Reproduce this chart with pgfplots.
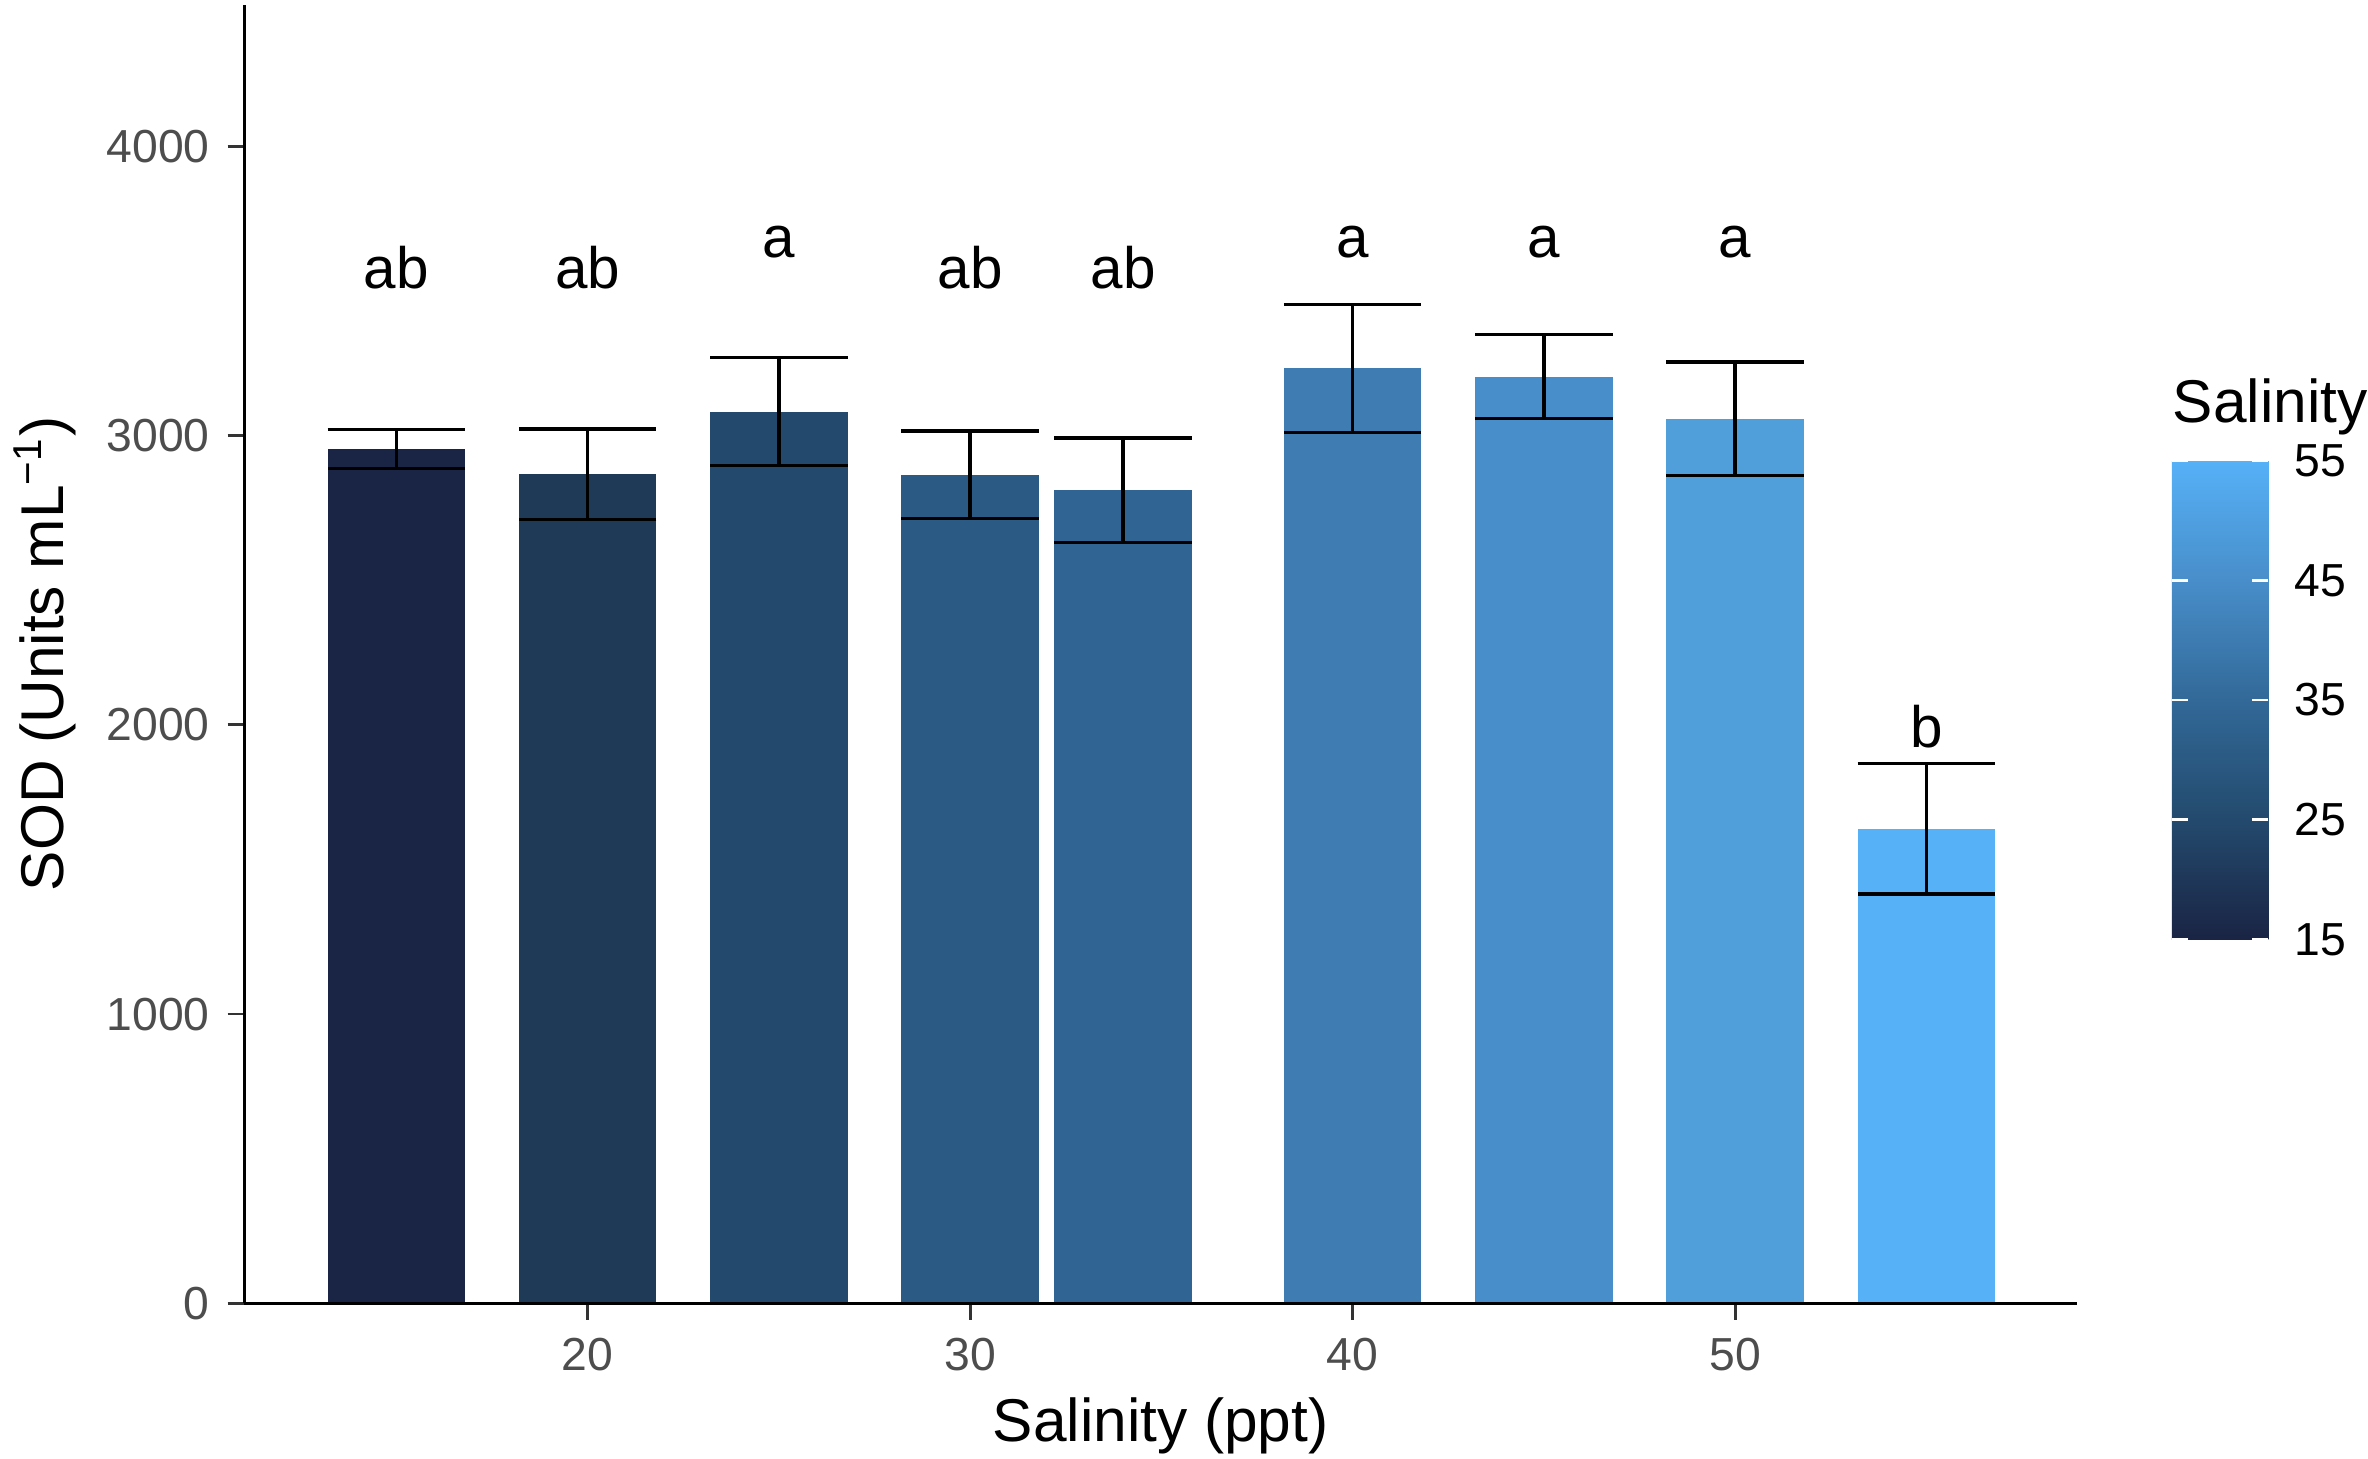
\documentclass[border=0pt]{standalone}
\usepackage{fontspec}
\setmainfont{Liberation Sans}
\usepackage{pgfplots}
\pgfplotsset{compat=1.18}
\usepackage{pgfplotstable}

% bar colours
\definecolor{s15}{RGB}{26,36,68}
\definecolor{s20}{RGB}{31,58,86}
\definecolor{s25}{RGB}{35,74,109}
\definecolor{s30}{RGB}{43,90,133}
\definecolor{s34}{RGB}{48,101,147}
\definecolor{s40}{RGB}{62,124,177}
\definecolor{s45}{RGB}{72,142,202}
\definecolor{s50}{RGB}{80,159,218}
\definecolor{s55}{RGB}{86,177,247}
\definecolor{ticktxt}{RGB}{77,77,77}

% letters of the post-hoc test
\pgfplotstableread{
sal pos lab
15 3510 ab
20 3510 ab
25 3614 a
30 3510 ab
34 3510 ab
40 3614 a
45 3614 a
50 3614 a
55 1920 b
}\letters

\begin{document}
\begin{tikzpicture}
\useasboundingbox (-48.5pt,-30.9pt) rectangle (421.9pt,258.9pt);
\begin{axis}[
  scale only axis,
  width=364.1pt, height=258pt,
  xmin=11.02, xmax=58.94,
  ymin=0, ymax=4490,
  axis x line*=bottom, axis y line*=left,
  axis line style={-, line width=0.55pt, black},
  axis on top,
  xtick={20,30,40,50},
  ytick={0,1000,2000,3000,4000},
  tick align=outside,
  major tick length=3.3pt,
  tick style={line width=0.55pt, black!80},
  /pgf/number format/assume math mode=true,
  /pgf/number format/1000 sep={},
  ticklabel style={font=\fontsize{9.2}{10}\selectfont, text=ticktxt},
  xlabel={Salinity (ppt)},
  ylabel={SOD (Units mL\textsuperscript{−1})},
  label style={font=\fontsize{12}{14}\selectfont},
  xlabel style={at={(axis description cs:0.5,-0.0942)}, anchor=center},
  ylabel style={at={(axis description cs:-0.1085,0.5)}, anchor=center},
  colormap={gg}{rgb255=(26,36,68) rgb255=(35,74,109) rgb255=(50,105,152) rgb255=(72,142,202) rgb255=(86,177,247)},
  point meta min=15, point meta max=55,
  colorbar,
  colorbar/width=19.2pt,
  colorbar style={
    at={(1.0517,0.2802)}, anchor=south west,
    height=95.1pt,
    ytick={15,25,35,45,55},
    yticklabel pos=right,
    ytick pos=both,
    tick align=inside,
    major tick length=3.3pt,
    major tick style={white, line width=0.5pt},
    axis line style={draw=none},
    axis on top,
    /pgf/number format/assume math mode=true,
    yticklabel style={font=\fontsize{9.2}{10}\selectfont, text=black, anchor=west, inner sep=0pt, xshift=5pt},
    title={Salinity},
    every axis title shift=0pt,
    title style={at={(0,1)}, anchor=base west, yshift=7.5pt, inner sep=0pt, font=\fontsize{12}{14}\selectfont},
  },
  sodbar/.style={
    ybar, bar width=3.6, bar shift=0pt, draw=none,
    error bars/y dir=both, error bars/y explicit,
    error bars/error mark options={rotate=90, mark size=13.68pt, line width=0.65pt, black},
    error bars/error bar style={line width=0.65pt, black},
  },
]
\addplot[sodbar, fill=s15] coordinates {(15,2954) +- (0,68)};
\addplot[sodbar, fill=s20] coordinates {(20,2866) +- (0,157)};
\addplot[sodbar, fill=s25] coordinates {(25,3083) +- (0,186)};
\addplot[sodbar, fill=s30] coordinates {(30,2864) +- (0,152)};
\addplot[sodbar, fill=s34] coordinates {(34,2811) +- (0,180)};
\addplot[sodbar, fill=s40] coordinates {(40,3232) +- (0,221)};
\addplot[sodbar, fill=s45] coordinates {(45,3204) +- (0,146)};
\addplot[sodbar, fill=s50] coordinates {(50,3058) +- (0,196)};
\addplot[sodbar, fill=s55] coordinates {(55,1640) +- (0,225)};
\addplot[draw=none, mark=none, nodes near coords, point meta=explicit symbolic,
  nodes near coords style={anchor=base, inner sep=0pt, font=\fontsize{11.6}{13}\selectfont, text=black}]
  table[x=sal, y=pos, meta=lab] {\letters};
\end{axis}
\end{tikzpicture}
\end{document}
